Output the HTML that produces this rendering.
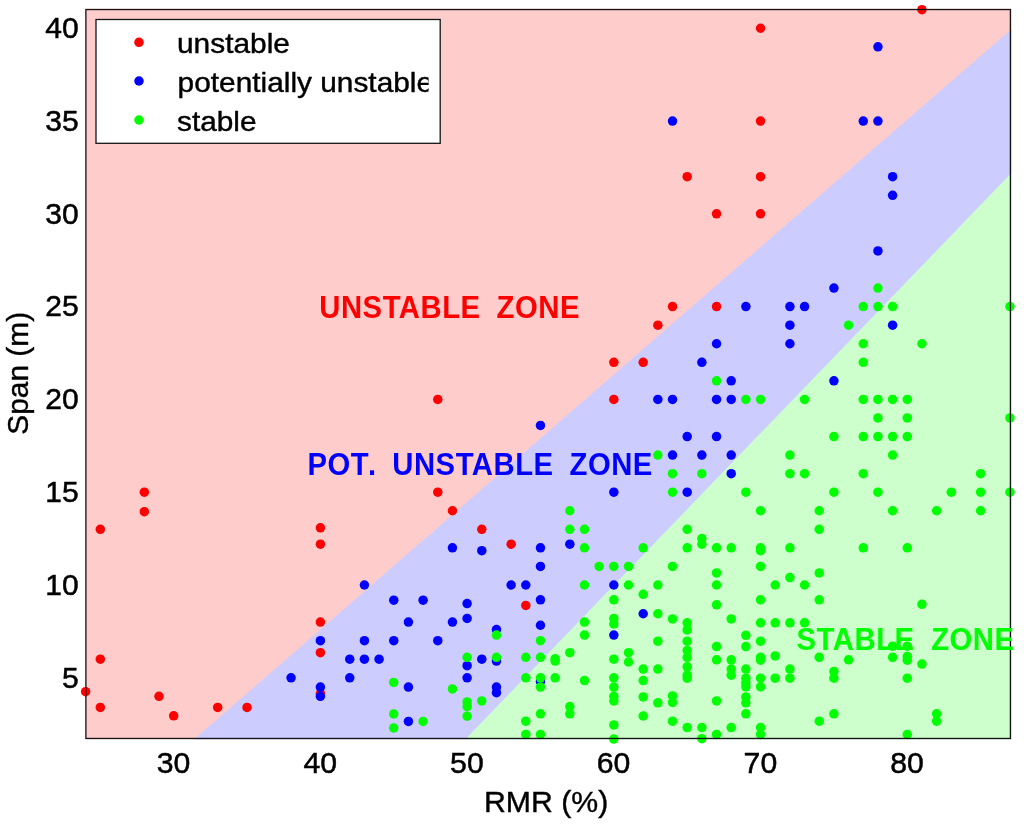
<!DOCTYPE html>
<html lang="en">
<head>
<meta charset="utf-8">
<title>Span vs RMR stability chart</title>
<style>
html,body{margin:0;padding:0;background:#fff;}
body{width:1024px;height:826px;overflow:hidden;}
svg{display:block;}
text{font-family:'Liberation Sans', Arial, Helvetica, sans-serif;}
</style>
</head>
<body>
<svg width="1024" height="826" viewBox="0 0 1024 826">
<rect x="0" y="0" width="1024" height="826" fill="#ffffff"/>
<!-- zones -->
<rect x="85.2" y="8.6" width="926.4" height="730.8" fill="#ffcccc"/>
<polygon points="193.91,739.4 1011.6,28.91 1011.6,739.4" fill="#ccccff"/>
<polygon points="465.18,739.4 1011.6,172.87 1011.6,739.4" fill="#ccffcc"/>
<!-- data -->
<g id="unstable">
<circle cx="144.34" cy="492.20" r="4.75" fill="#ff0000"/>
<circle cx="144.34" cy="511.69" r="4.75" fill="#ff0000"/>
<circle cx="100.32" cy="529.32" r="4.75" fill="#ff0000"/>
<circle cx="100.32" cy="659.22" r="4.75" fill="#ff0000"/>
<circle cx="85.65" cy="691.70" r="4.75" fill="#ff0000"/>
<circle cx="100.32" cy="707.47" r="4.75" fill="#ff0000"/>
<circle cx="159.01" cy="696.34" r="4.75" fill="#ff0000"/>
<circle cx="173.68" cy="715.82" r="4.75" fill="#ff0000"/>
<circle cx="217.70" cy="707.47" r="4.75" fill="#ff0000"/>
<circle cx="247.04" cy="707.47" r="4.75" fill="#ff0000"/>
<circle cx="437.78" cy="399.41" r="4.75" fill="#ff0000"/>
<circle cx="437.78" cy="492.20" r="4.75" fill="#ff0000"/>
<circle cx="452.45" cy="510.76" r="4.75" fill="#ff0000"/>
<circle cx="320.40" cy="527.83" r="4.75" fill="#ff0000"/>
<circle cx="320.40" cy="544.16" r="4.75" fill="#ff0000"/>
<circle cx="481.79" cy="529.32" r="4.75" fill="#ff0000"/>
<circle cx="511.14" cy="544.16" r="4.75" fill="#ff0000"/>
<circle cx="320.40" cy="622.11" r="4.75" fill="#ff0000"/>
<circle cx="320.40" cy="652.73" r="4.75" fill="#ff0000"/>
<circle cx="320.40" cy="693.55" r="4.75" fill="#ff0000"/>
<circle cx="525.81" cy="605.40" r="4.75" fill="#ff0000"/>
<circle cx="613.84" cy="362.29" r="4.75" fill="#ff0000"/>
<circle cx="613.84" cy="399.41" r="4.75" fill="#ff0000"/>
<circle cx="672.53" cy="306.62" r="4.75" fill="#ff0000"/>
<circle cx="716.55" cy="306.62" r="4.75" fill="#ff0000"/>
<circle cx="657.86" cy="325.18" r="4.75" fill="#ff0000"/>
<circle cx="643.19" cy="362.29" r="4.75" fill="#ff0000"/>
<circle cx="687.20" cy="176.71" r="4.75" fill="#ff0000"/>
<circle cx="760.56" cy="176.71" r="4.75" fill="#ff0000"/>
<circle cx="716.55" cy="213.83" r="4.75" fill="#ff0000"/>
<circle cx="760.56" cy="213.83" r="4.75" fill="#ff0000"/>
<circle cx="760.56" cy="28.25" r="4.75" fill="#ff0000"/>
<circle cx="760.56" cy="121.04" r="4.75" fill="#ff0000"/>
<circle cx="921.95" cy="9.69" r="4.75" fill="#ff0000"/>
</g>
<g id="potentially-unstable">
<circle cx="364.42" cy="584.99" r="4.75" fill="#0000ff"/>
<circle cx="452.45" cy="547.87" r="4.75" fill="#0000ff"/>
<circle cx="481.79" cy="550.66" r="4.75" fill="#0000ff"/>
<circle cx="393.76" cy="600.21" r="4.75" fill="#0000ff"/>
<circle cx="423.11" cy="600.21" r="4.75" fill="#0000ff"/>
<circle cx="467.12" cy="603.55" r="4.75" fill="#0000ff"/>
<circle cx="511.14" cy="584.99" r="4.75" fill="#0000ff"/>
<circle cx="320.40" cy="640.66" r="4.75" fill="#0000ff"/>
<circle cx="364.42" cy="640.66" r="4.75" fill="#0000ff"/>
<circle cx="393.76" cy="640.66" r="4.75" fill="#0000ff"/>
<circle cx="437.78" cy="640.66" r="4.75" fill="#0000ff"/>
<circle cx="408.43" cy="622.11" r="4.75" fill="#0000ff"/>
<circle cx="349.75" cy="659.22" r="4.75" fill="#0000ff"/>
<circle cx="364.42" cy="659.22" r="4.75" fill="#0000ff"/>
<circle cx="379.09" cy="659.22" r="4.75" fill="#0000ff"/>
<circle cx="291.06" cy="677.78" r="4.75" fill="#0000ff"/>
<circle cx="349.75" cy="677.78" r="4.75" fill="#0000ff"/>
<circle cx="320.40" cy="687.06" r="4.75" fill="#0000ff"/>
<circle cx="320.40" cy="696.34" r="4.75" fill="#0000ff"/>
<circle cx="408.43" cy="687.06" r="4.75" fill="#0000ff"/>
<circle cx="408.43" cy="721.39" r="4.75" fill="#0000ff"/>
<circle cx="452.45" cy="622.11" r="4.75" fill="#0000ff"/>
<circle cx="467.12" cy="618.39" r="4.75" fill="#0000ff"/>
<circle cx="467.12" cy="665.72" r="4.75" fill="#0000ff"/>
<circle cx="467.12" cy="677.78" r="4.75" fill="#0000ff"/>
<circle cx="481.79" cy="659.22" r="4.75" fill="#0000ff"/>
<circle cx="496.47" cy="629.53" r="4.75" fill="#0000ff"/>
<circle cx="496.47" cy="661.08" r="4.75" fill="#0000ff"/>
<circle cx="496.47" cy="687.06" r="4.75" fill="#0000ff"/>
<circle cx="496.47" cy="692.63" r="4.75" fill="#0000ff"/>
<circle cx="540.48" cy="599.84" r="4.75" fill="#0000ff"/>
<circle cx="540.48" cy="625.26" r="4.75" fill="#0000ff"/>
<circle cx="540.48" cy="681.49" r="4.75" fill="#0000ff"/>
<circle cx="613.84" cy="635.10" r="4.75" fill="#0000ff"/>
<circle cx="643.19" cy="613.75" r="4.75" fill="#0000ff"/>
<circle cx="540.48" cy="547.87" r="4.75" fill="#0000ff"/>
<circle cx="540.48" cy="566.43" r="4.75" fill="#0000ff"/>
<circle cx="525.81" cy="584.99" r="4.75" fill="#0000ff"/>
<circle cx="569.83" cy="544.16" r="4.75" fill="#0000ff"/>
<circle cx="613.84" cy="492.20" r="4.75" fill="#0000ff"/>
<circle cx="613.84" cy="584.99" r="4.75" fill="#0000ff"/>
<circle cx="540.48" cy="425.39" r="4.75" fill="#0000ff"/>
<circle cx="672.53" cy="455.08" r="4.75" fill="#0000ff"/>
<circle cx="701.87" cy="455.08" r="4.75" fill="#0000ff"/>
<circle cx="731.22" cy="455.08" r="4.75" fill="#0000ff"/>
<circle cx="731.22" cy="473.64" r="4.75" fill="#0000ff"/>
<circle cx="687.20" cy="492.20" r="4.75" fill="#0000ff"/>
<circle cx="745.89" cy="306.62" r="4.75" fill="#0000ff"/>
<circle cx="789.91" cy="306.62" r="4.75" fill="#0000ff"/>
<circle cx="804.58" cy="306.62" r="4.75" fill="#0000ff"/>
<circle cx="789.91" cy="325.18" r="4.75" fill="#0000ff"/>
<circle cx="716.55" cy="343.74" r="4.75" fill="#0000ff"/>
<circle cx="789.91" cy="343.74" r="4.75" fill="#0000ff"/>
<circle cx="701.87" cy="362.29" r="4.75" fill="#0000ff"/>
<circle cx="731.22" cy="380.85" r="4.75" fill="#0000ff"/>
<circle cx="657.86" cy="399.41" r="4.75" fill="#0000ff"/>
<circle cx="672.53" cy="399.41" r="4.75" fill="#0000ff"/>
<circle cx="716.55" cy="399.41" r="4.75" fill="#0000ff"/>
<circle cx="731.22" cy="399.41" r="4.75" fill="#0000ff"/>
<circle cx="687.20" cy="436.53" r="4.75" fill="#0000ff"/>
<circle cx="716.55" cy="436.53" r="4.75" fill="#0000ff"/>
<circle cx="892.61" cy="325.18" r="4.75" fill="#0000ff"/>
<circle cx="833.92" cy="380.85" r="4.75" fill="#0000ff"/>
<circle cx="892.61" cy="176.71" r="4.75" fill="#0000ff"/>
<circle cx="892.61" cy="195.27" r="4.75" fill="#0000ff"/>
<circle cx="877.94" cy="250.95" r="4.75" fill="#0000ff"/>
<circle cx="833.92" cy="288.06" r="4.75" fill="#0000ff"/>
<circle cx="672.53" cy="121.04" r="4.75" fill="#0000ff"/>
<circle cx="877.94" cy="46.81" r="4.75" fill="#0000ff"/>
<circle cx="863.27" cy="121.04" r="4.75" fill="#0000ff"/>
<circle cx="877.94" cy="121.04" r="4.75" fill="#0000ff"/>
</g>
<g id="stable">
<circle cx="393.76" cy="682.42" r="4.75" fill="#00ff00"/>
<circle cx="393.76" cy="713.97" r="4.75" fill="#00ff00"/>
<circle cx="393.76" cy="727.89" r="4.75" fill="#00ff00"/>
<circle cx="423.11" cy="721.39" r="4.75" fill="#00ff00"/>
<circle cx="452.45" cy="688.91" r="4.75" fill="#00ff00"/>
<circle cx="467.12" cy="657.37" r="4.75" fill="#00ff00"/>
<circle cx="467.12" cy="701.91" r="4.75" fill="#00ff00"/>
<circle cx="467.12" cy="706.54" r="4.75" fill="#00ff00"/>
<circle cx="467.12" cy="716.20" r="4.75" fill="#00ff00"/>
<circle cx="481.79" cy="700.98" r="4.75" fill="#00ff00"/>
<circle cx="496.47" cy="635.10" r="4.75" fill="#00ff00"/>
<circle cx="496.47" cy="657.37" r="4.75" fill="#00ff00"/>
<circle cx="525.81" cy="657.37" r="4.75" fill="#00ff00"/>
<circle cx="525.81" cy="677.78" r="4.75" fill="#00ff00"/>
<circle cx="525.81" cy="721.21" r="4.75" fill="#00ff00"/>
<circle cx="525.81" cy="734.38" r="4.75" fill="#00ff00"/>
<circle cx="540.48" cy="640.66" r="4.75" fill="#00ff00"/>
<circle cx="540.48" cy="657.37" r="4.75" fill="#00ff00"/>
<circle cx="540.48" cy="677.78" r="4.75" fill="#00ff00"/>
<circle cx="540.48" cy="687.06" r="4.75" fill="#00ff00"/>
<circle cx="540.48" cy="713.78" r="4.75" fill="#00ff00"/>
<circle cx="540.48" cy="734.38" r="4.75" fill="#00ff00"/>
<circle cx="555.15" cy="658.85" r="4.75" fill="#00ff00"/>
<circle cx="555.15" cy="661.08" r="4.75" fill="#00ff00"/>
<circle cx="555.15" cy="677.78" r="4.75" fill="#00ff00"/>
<circle cx="569.83" cy="652.73" r="4.75" fill="#00ff00"/>
<circle cx="569.83" cy="706.54" r="4.75" fill="#00ff00"/>
<circle cx="569.83" cy="713.78" r="4.75" fill="#00ff00"/>
<circle cx="569.83" cy="510.76" r="4.75" fill="#00ff00"/>
<circle cx="569.83" cy="529.32" r="4.75" fill="#00ff00"/>
<circle cx="584.50" cy="622.11" r="4.75" fill="#00ff00"/>
<circle cx="584.50" cy="635.10" r="4.75" fill="#00ff00"/>
<circle cx="584.50" cy="680.56" r="4.75" fill="#00ff00"/>
<circle cx="584.50" cy="529.32" r="4.75" fill="#00ff00"/>
<circle cx="584.50" cy="547.87" r="4.75" fill="#00ff00"/>
<circle cx="584.50" cy="584.99" r="4.75" fill="#00ff00"/>
<circle cx="613.84" cy="599.84" r="4.75" fill="#00ff00"/>
<circle cx="613.84" cy="618.39" r="4.75" fill="#00ff00"/>
<circle cx="613.84" cy="623.96" r="4.75" fill="#00ff00"/>
<circle cx="613.84" cy="659.22" r="4.75" fill="#00ff00"/>
<circle cx="613.84" cy="677.78" r="4.75" fill="#00ff00"/>
<circle cx="613.84" cy="687.06" r="4.75" fill="#00ff00"/>
<circle cx="613.84" cy="696.34" r="4.75" fill="#00ff00"/>
<circle cx="613.84" cy="700.98" r="4.75" fill="#00ff00"/>
<circle cx="613.84" cy="724.92" r="4.75" fill="#00ff00"/>
<circle cx="613.84" cy="739.02" r="4.75" fill="#00ff00"/>
<circle cx="613.84" cy="566.43" r="4.75" fill="#00ff00"/>
<circle cx="628.51" cy="652.73" r="4.75" fill="#00ff00"/>
<circle cx="628.51" cy="662.01" r="4.75" fill="#00ff00"/>
<circle cx="628.51" cy="566.43" r="4.75" fill="#00ff00"/>
<circle cx="628.51" cy="584.99" r="4.75" fill="#00ff00"/>
<circle cx="643.19" cy="669.06" r="4.75" fill="#00ff00"/>
<circle cx="643.19" cy="680.56" r="4.75" fill="#00ff00"/>
<circle cx="643.19" cy="696.89" r="4.75" fill="#00ff00"/>
<circle cx="643.19" cy="716.01" r="4.75" fill="#00ff00"/>
<circle cx="643.19" cy="547.87" r="4.75" fill="#00ff00"/>
<circle cx="643.19" cy="594.27" r="4.75" fill="#00ff00"/>
<circle cx="657.86" cy="613.75" r="4.75" fill="#00ff00"/>
<circle cx="657.86" cy="641.22" r="4.75" fill="#00ff00"/>
<circle cx="657.86" cy="669.06" r="4.75" fill="#00ff00"/>
<circle cx="657.86" cy="702.83" r="4.75" fill="#00ff00"/>
<circle cx="657.86" cy="455.08" r="4.75" fill="#00ff00"/>
<circle cx="657.86" cy="584.99" r="4.75" fill="#00ff00"/>
<circle cx="672.53" cy="618.95" r="4.75" fill="#00ff00"/>
<circle cx="672.53" cy="695.97" r="4.75" fill="#00ff00"/>
<circle cx="672.53" cy="702.46" r="4.75" fill="#00ff00"/>
<circle cx="672.53" cy="721.21" r="4.75" fill="#00ff00"/>
<circle cx="672.53" cy="473.64" r="4.75" fill="#00ff00"/>
<circle cx="672.53" cy="492.20" r="4.75" fill="#00ff00"/>
<circle cx="672.53" cy="566.43" r="4.75" fill="#00ff00"/>
<circle cx="687.20" cy="622.85" r="4.75" fill="#00ff00"/>
<circle cx="687.20" cy="629.90" r="4.75" fill="#00ff00"/>
<circle cx="687.20" cy="641.22" r="4.75" fill="#00ff00"/>
<circle cx="687.20" cy="650.50" r="4.75" fill="#00ff00"/>
<circle cx="687.20" cy="657.37" r="4.75" fill="#00ff00"/>
<circle cx="687.20" cy="666.83" r="4.75" fill="#00ff00"/>
<circle cx="687.20" cy="675.18" r="4.75" fill="#00ff00"/>
<circle cx="687.20" cy="678.15" r="4.75" fill="#00ff00"/>
<circle cx="687.20" cy="727.52" r="4.75" fill="#00ff00"/>
<circle cx="687.20" cy="529.32" r="4.75" fill="#00ff00"/>
<circle cx="687.20" cy="547.87" r="4.75" fill="#00ff00"/>
<circle cx="701.87" cy="727.52" r="4.75" fill="#00ff00"/>
<circle cx="701.87" cy="738.65" r="4.75" fill="#00ff00"/>
<circle cx="701.87" cy="473.64" r="4.75" fill="#00ff00"/>
<circle cx="701.87" cy="538.60" r="4.75" fill="#00ff00"/>
<circle cx="701.87" cy="544.16" r="4.75" fill="#00ff00"/>
<circle cx="716.55" cy="604.85" r="4.75" fill="#00ff00"/>
<circle cx="716.55" cy="646.60" r="4.75" fill="#00ff00"/>
<circle cx="716.55" cy="659.78" r="4.75" fill="#00ff00"/>
<circle cx="716.55" cy="700.98" r="4.75" fill="#00ff00"/>
<circle cx="716.55" cy="734.38" r="4.75" fill="#00ff00"/>
<circle cx="716.55" cy="547.87" r="4.75" fill="#00ff00"/>
<circle cx="716.55" cy="572.93" r="4.75" fill="#00ff00"/>
<circle cx="716.55" cy="584.99" r="4.75" fill="#00ff00"/>
<circle cx="716.55" cy="380.85" r="4.75" fill="#00ff00"/>
<circle cx="731.22" cy="618.95" r="4.75" fill="#00ff00"/>
<circle cx="731.22" cy="659.78" r="4.75" fill="#00ff00"/>
<circle cx="731.22" cy="669.06" r="4.75" fill="#00ff00"/>
<circle cx="731.22" cy="675.18" r="4.75" fill="#00ff00"/>
<circle cx="731.22" cy="727.52" r="4.75" fill="#00ff00"/>
<circle cx="731.22" cy="547.87" r="4.75" fill="#00ff00"/>
<circle cx="745.89" cy="635.28" r="4.75" fill="#00ff00"/>
<circle cx="745.89" cy="646.60" r="4.75" fill="#00ff00"/>
<circle cx="745.89" cy="669.06" r="4.75" fill="#00ff00"/>
<circle cx="745.89" cy="678.15" r="4.75" fill="#00ff00"/>
<circle cx="745.89" cy="682.79" r="4.75" fill="#00ff00"/>
<circle cx="745.89" cy="686.87" r="4.75" fill="#00ff00"/>
<circle cx="745.89" cy="696.89" r="4.75" fill="#00ff00"/>
<circle cx="745.89" cy="702.83" r="4.75" fill="#00ff00"/>
<circle cx="745.89" cy="713.78" r="4.75" fill="#00ff00"/>
<circle cx="745.89" cy="492.20" r="4.75" fill="#00ff00"/>
<circle cx="745.89" cy="399.41" r="4.75" fill="#00ff00"/>
<circle cx="760.56" cy="599.84" r="4.75" fill="#00ff00"/>
<circle cx="760.56" cy="622.85" r="4.75" fill="#00ff00"/>
<circle cx="760.56" cy="641.22" r="4.75" fill="#00ff00"/>
<circle cx="760.56" cy="657.37" r="4.75" fill="#00ff00"/>
<circle cx="760.56" cy="660.15" r="4.75" fill="#00ff00"/>
<circle cx="760.56" cy="678.15" r="4.75" fill="#00ff00"/>
<circle cx="760.56" cy="686.87" r="4.75" fill="#00ff00"/>
<circle cx="760.56" cy="727.52" r="4.75" fill="#00ff00"/>
<circle cx="760.56" cy="734.38" r="4.75" fill="#00ff00"/>
<circle cx="760.56" cy="510.76" r="4.75" fill="#00ff00"/>
<circle cx="760.56" cy="547.87" r="4.75" fill="#00ff00"/>
<circle cx="760.56" cy="550.66" r="4.75" fill="#00ff00"/>
<circle cx="760.56" cy="566.43" r="4.75" fill="#00ff00"/>
<circle cx="760.56" cy="399.41" r="4.75" fill="#00ff00"/>
<circle cx="775.23" cy="622.85" r="4.75" fill="#00ff00"/>
<circle cx="775.23" cy="655.88" r="4.75" fill="#00ff00"/>
<circle cx="775.23" cy="678.15" r="4.75" fill="#00ff00"/>
<circle cx="775.23" cy="584.99" r="4.75" fill="#00ff00"/>
<circle cx="789.91" cy="622.85" r="4.75" fill="#00ff00"/>
<circle cx="789.91" cy="669.06" r="4.75" fill="#00ff00"/>
<circle cx="789.91" cy="678.15" r="4.75" fill="#00ff00"/>
<circle cx="789.91" cy="455.08" r="4.75" fill="#00ff00"/>
<circle cx="789.91" cy="473.64" r="4.75" fill="#00ff00"/>
<circle cx="789.91" cy="547.87" r="4.75" fill="#00ff00"/>
<circle cx="789.91" cy="577.57" r="4.75" fill="#00ff00"/>
<circle cx="804.58" cy="622.85" r="4.75" fill="#00ff00"/>
<circle cx="804.58" cy="473.64" r="4.75" fill="#00ff00"/>
<circle cx="804.58" cy="584.99" r="4.75" fill="#00ff00"/>
<circle cx="804.58" cy="399.41" r="4.75" fill="#00ff00"/>
<circle cx="819.25" cy="599.84" r="4.75" fill="#00ff00"/>
<circle cx="819.25" cy="657.37" r="4.75" fill="#00ff00"/>
<circle cx="819.25" cy="721.21" r="4.75" fill="#00ff00"/>
<circle cx="819.25" cy="510.76" r="4.75" fill="#00ff00"/>
<circle cx="819.25" cy="529.32" r="4.75" fill="#00ff00"/>
<circle cx="819.25" cy="572.93" r="4.75" fill="#00ff00"/>
<circle cx="833.92" cy="671.47" r="4.75" fill="#00ff00"/>
<circle cx="833.92" cy="678.15" r="4.75" fill="#00ff00"/>
<circle cx="833.92" cy="713.78" r="4.75" fill="#00ff00"/>
<circle cx="833.92" cy="492.20" r="4.75" fill="#00ff00"/>
<circle cx="833.92" cy="436.53" r="4.75" fill="#00ff00"/>
<circle cx="848.59" cy="659.78" r="4.75" fill="#00ff00"/>
<circle cx="848.59" cy="325.18" r="4.75" fill="#00ff00"/>
<circle cx="892.61" cy="646.23" r="4.75" fill="#00ff00"/>
<circle cx="892.61" cy="657.37" r="4.75" fill="#00ff00"/>
<circle cx="892.61" cy="455.08" r="4.75" fill="#00ff00"/>
<circle cx="892.61" cy="510.76" r="4.75" fill="#00ff00"/>
<circle cx="892.61" cy="306.62" r="4.75" fill="#00ff00"/>
<circle cx="892.61" cy="399.41" r="4.75" fill="#00ff00"/>
<circle cx="892.61" cy="436.53" r="4.75" fill="#00ff00"/>
<circle cx="907.28" cy="646.23" r="4.75" fill="#00ff00"/>
<circle cx="907.28" cy="656.44" r="4.75" fill="#00ff00"/>
<circle cx="907.28" cy="660.15" r="4.75" fill="#00ff00"/>
<circle cx="907.28" cy="678.15" r="4.75" fill="#00ff00"/>
<circle cx="907.28" cy="734.38" r="4.75" fill="#00ff00"/>
<circle cx="907.28" cy="547.87" r="4.75" fill="#00ff00"/>
<circle cx="907.28" cy="399.41" r="4.75" fill="#00ff00"/>
<circle cx="907.28" cy="417.97" r="4.75" fill="#00ff00"/>
<circle cx="907.28" cy="436.53" r="4.75" fill="#00ff00"/>
<circle cx="921.95" cy="604.29" r="4.75" fill="#00ff00"/>
<circle cx="921.95" cy="664.05" r="4.75" fill="#00ff00"/>
<circle cx="921.95" cy="343.74" r="4.75" fill="#00ff00"/>
<circle cx="936.63" cy="713.78" r="4.75" fill="#00ff00"/>
<circle cx="936.63" cy="721.21" r="4.75" fill="#00ff00"/>
<circle cx="936.63" cy="510.76" r="4.75" fill="#00ff00"/>
<circle cx="599.17" cy="566.43" r="4.75" fill="#00ff00"/>
<circle cx="863.27" cy="473.64" r="4.75" fill="#00ff00"/>
<circle cx="863.27" cy="547.87" r="4.75" fill="#00ff00"/>
<circle cx="863.27" cy="306.62" r="4.75" fill="#00ff00"/>
<circle cx="863.27" cy="343.74" r="4.75" fill="#00ff00"/>
<circle cx="863.27" cy="362.29" r="4.75" fill="#00ff00"/>
<circle cx="863.27" cy="399.41" r="4.75" fill="#00ff00"/>
<circle cx="863.27" cy="436.53" r="4.75" fill="#00ff00"/>
<circle cx="980.64" cy="473.64" r="4.75" fill="#00ff00"/>
<circle cx="980.64" cy="492.20" r="4.75" fill="#00ff00"/>
<circle cx="980.64" cy="510.76" r="4.75" fill="#00ff00"/>
<circle cx="877.94" cy="492.20" r="4.75" fill="#00ff00"/>
<circle cx="877.94" cy="306.62" r="4.75" fill="#00ff00"/>
<circle cx="877.94" cy="399.41" r="4.75" fill="#00ff00"/>
<circle cx="877.94" cy="417.97" r="4.75" fill="#00ff00"/>
<circle cx="877.94" cy="436.53" r="4.75" fill="#00ff00"/>
<circle cx="877.94" cy="288.06" r="4.75" fill="#00ff00"/>
<circle cx="951.30" cy="492.20" r="4.75" fill="#00ff00"/>
<circle cx="1009.99" cy="306.62" r="4.75" fill="#00ff00"/>
<circle cx="1009.99" cy="417.97" r="4.75" fill="#00ff00"/>
<circle cx="1009.99" cy="492.20" r="4.75" fill="#00ff00"/>
</g>
<!-- axes box -->
<rect x="85.9" y="9.55" width="924.5" height="728.9" fill="none" stroke="#151515" stroke-width="1.3"/>
<!-- zone labels -->
<text transform="translate(0,317.9) scale(1.0,1.075)" fill="#ff0000" font-weight="bold" font-size="29.3" letter-spacing="0.5"><tspan x="319.30">UNSTABLE </tspan><tspan x="496.60">ZONE</tspan></text>
<text transform="translate(0,474.7) scale(1.0,1.075)" fill="#0000ff" font-weight="bold" font-size="29.3" letter-spacing="0.5"><tspan x="307.40">POT<tspan dx="-1.2">.</tspan> </tspan><tspan x="392.30">UNSTABLE </tspan><tspan x="569.50">ZONE</tspan></text>
<text transform="translate(0,650.0) scale(1.0,1.075)" fill="#00ff00" font-weight="bold" font-size="29.3" letter-spacing="0.5"><tspan x="796.60">STABLE </tspan><tspan x="931.20">ZONE</tspan></text>
<!-- legend -->
<rect x="96" y="19.5" width="344.2" height="123.8" fill="#ffffff" stroke="#151515" stroke-width="1.3"/>
<circle cx="139" cy="42.3" r="4.75" fill="#ff0000"/>
<circle cx="139" cy="81" r="4.75" fill="#0000ff"/>
<circle cx="139" cy="120" r="4.75" fill="#00ff00"/>
<clipPath id="lc"><rect x="97" y="20" width="331.6" height="122"/></clipPath>
<g clip-path="url(#lc)" font-size="27.2" fill="#000" stroke="#000" stroke-width="0.4">
<text x="177" y="53" textLength="113" lengthAdjust="spacingAndGlyphs">unstable</text>
<text x="177.6" y="92.3" textLength="255.5" lengthAdjust="spacingAndGlyphs">potentially unstable</text>
<text x="177" y="130.6" textLength="79.6" lengthAdjust="spacingAndGlyphs">stable</text>
</g>
<!-- ticks -->
<g fill="#000" stroke="#000" stroke-width="0.5">
<text x="78.6" y="687.8" text-anchor="end" font-size="30" textLength="16.7" lengthAdjust="spacingAndGlyphs">5</text>
<text x="78.6" y="594.9" text-anchor="end" font-size="30" textLength="33.4" lengthAdjust="spacingAndGlyphs">10</text>
<text x="78.6" y="502.1" text-anchor="end" font-size="30" textLength="33.4" lengthAdjust="spacingAndGlyphs">15</text>
<text x="78.6" y="409.3" text-anchor="end" font-size="30" textLength="33.4" lengthAdjust="spacingAndGlyphs">20</text>
<text x="78.6" y="316.4" text-anchor="end" font-size="30" textLength="33.4" lengthAdjust="spacingAndGlyphs">25</text>
<text x="78.6" y="223.6" text-anchor="end" font-size="30" textLength="33.4" lengthAdjust="spacingAndGlyphs">30</text>
<text x="78.6" y="130.7" text-anchor="end" font-size="30" textLength="33.4" lengthAdjust="spacingAndGlyphs">35</text>
<text x="78.6" y="37.9" text-anchor="end" font-size="30" textLength="33.4" lengthAdjust="spacingAndGlyphs">40</text>
<text x="173.5" y="772.6" text-anchor="middle" font-size="30" textLength="33.6" lengthAdjust="spacingAndGlyphs">30</text>
<text x="320.2" y="772.6" text-anchor="middle" font-size="30" textLength="33.6" lengthAdjust="spacingAndGlyphs">40</text>
<text x="466.9" y="772.6" text-anchor="middle" font-size="30" textLength="33.6" lengthAdjust="spacingAndGlyphs">50</text>
<text x="613.6" y="772.6" text-anchor="middle" font-size="30" textLength="33.6" lengthAdjust="spacingAndGlyphs">60</text>
<text x="760.4" y="772.6" text-anchor="middle" font-size="30" textLength="33.6" lengthAdjust="spacingAndGlyphs">70</text>
<text x="907.1" y="772.6" text-anchor="middle" font-size="30" textLength="33.6" lengthAdjust="spacingAndGlyphs">80</text>
</g>
<!-- axis labels -->
<text x="546.1" y="812.3" text-anchor="middle" font-size="30.2" textLength="124.3" lengthAdjust="spacingAndGlyphs" fill="#000" stroke="#000" stroke-width="0.4">RMR (%)</text>
<text transform="translate(28.3,373.3) rotate(-90)" text-anchor="middle" font-size="29.8" textLength="122.8" lengthAdjust="spacingAndGlyphs" fill="#000" stroke="#000" stroke-width="0.4">Span (m)</text>
</svg>
</body>
</html>
